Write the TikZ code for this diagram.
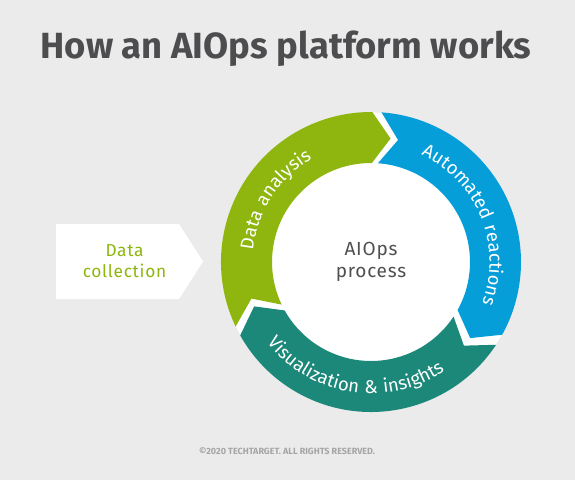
\documentclass[tikz,border=0pt]{standalone}
\usepackage{fontspec}
\setmainfont{Fira Sans}
\newfontfamily\titlefont{Fira Sans}
\newfontfamily\bodyf{Fira Sans}[LetterSpace=4]
\newfontfamily\ringf{Fira Sans}[LetterSpace=6]
\usetikzlibrary{decorations.text}
\definecolor{bg}{RGB}{235,235,235}
\definecolor{cgreen}{RGB}{142,182,14}
\definecolor{cblue}{RGB}{6,158,217}
\definecolor{cteal}{RGB}{27,136,122}
\definecolor{ctitle}{RGB}{77,77,79}
\definecolor{ctext}{RGB}{80,80,82}
\definecolor{ccopy}{RGB}{165,165,165}
\tikzset{
  ringtext/.style={decorate, decoration={text along path, text align=center, text={|\color{white}\ringf\fontsize{18.5}{21}\selectfont|#1}}},
  bodyfont/.style={font=\bodyf\fontsize{17.3}{21.7}\selectfont},
}
\begin{document}
\begin{tikzpicture}[x=1pt,y=1pt]
\fill[bg] (0,0) rectangle (575,480);
\useasboundingbox (0,0) rectangle (575,480);
% title
\node[anchor=base, text=ctitle, font=\titlefont\bfseries\fontsize{36.4}{42}\selectfont] (title) at (286,421) {How an AIOps platform works};
% data collection box
\fill[white] (56,181) -- (179,181) -- (203,218.5) -- (179,256) -- (56,256) -- cycle;
\node[bodyfont, text=cgreen, align=center] (dc) at (124.5,219) {Data\\collection};
% ring
\begin{scope}[shift={(371,218)}]
\coordinate (c) at (0,0);
\fill[white] (c) circle[radius=149.5];
\fill[cgreen] (205.5:150) arc[start angle=205.5, end angle=89.5, radius=150] -- (81:125) -- (89.5:99) arc[start angle=89.5, end angle=205.5, radius=99] -- (197:125) -- cycle;
\fill[cblue] (86:150) arc[start angle=86, end angle=-29, radius=150] -- (-37.5:125) -- (-29:99) arc[start angle=-29, end angle=86, radius=99] -- (77.5:125) -- cycle;
\fill[cteal] (-33.5:150) arc[start angle=-33.5, end angle=-150.7, radius=150] -- (-159.2:125) -- (-150.7:99) arc[start angle=-150.7, end angle=-33.5, radius=99] -- (-42:125) -- cycle;
\path[ringtext={Data analysis}] (207:118.5) arc[start angle=207, end angle=87, radius=118.5];
\path[ringtext={Automated reactions}] (82.3:118.5) arc[start angle=82.3, end angle=-37.7, radius=118.5];
\path[ringtext={Visualization {\&} insights}] (201:131.5) arc[start angle=201, end angle=321, radius=131.5];
\node[text=ctext, align=center, font=\bodyf\fontsize{19}{21.7}\selectfont] (center) at (0,0) {AIOps\\process};
\end{scope}
% copyright
\node[text=ccopy, font=\bfseries\fontsize{9}{10}\selectfont] (copy) at (287,29) {©2020 TECHTARGET. ALL RIGHTS RESERVED.};
\end{tikzpicture}
\end{document}
